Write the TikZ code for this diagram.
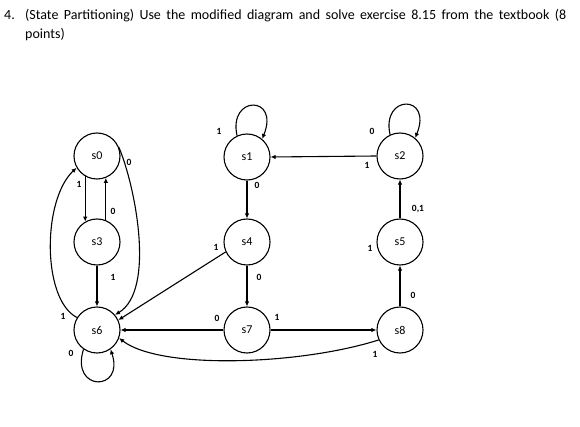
\documentclass[tikz,border=0pt]{standalone}
\usepackage{fontspec}
\setmainfont{Carlito}
\usetikzlibrary{arrows.meta}

\begin{document}
\begin{tikzpicture}[x=1pt,y=-1pt,
      state/.style={circle,draw,line width=1.1pt,minimum size=46pt,inner sep=0pt,
        font=\fontsize{12}{13}\selectfont},
      arr/.style={line width=1.1pt,-{Latex[length=5pt,width=4.5pt]}},
      lbl/.style={inner sep=0pt,font=\fontsize{9.5}{10}\selectfont\bfseries},
      txt/.style={anchor=base west,inner sep=0pt,font=\fontsize{14}{15}\selectfont},
      ]
      \useasboundingbox (0,0) rectangle (580,427);
      \node[txt] (num) at (4,19.5) {4.};
      \node[txt] (title) at (25,19.5) {\hbox to 541pt{(State Partitioning) Use the modified diagram and solve exercise 8.15 from the textbook (8}};
      \node[txt] (title2) at (25,38.5) {points)};

      \node[state] (s0) at (97,156) {s0};
      \node[state] (s3) at (97,242) {s3};
      \node[state] (s6) at (97,330) {s6};
      \node[state] (s1) at (247,157) {s1};
      \node[state] (s4) at (247,242) {s4};
      \node[state] (s7) at (247,330) {s7};
      \node[state] (s2) at (400,156) {s2};
      \node[state] (s5) at (400,242) {s5};
      \node[state] (s8) at (400,330) {s8};

      \draw[arr] (s0.240) -- (s3.120);
      \draw[arr] (s3.68) -- (s0.292);
      \draw[arr] (s0.22) .. controls (135,185) and (156,290) .. (s6.40);
      \draw[arr] (s6.148) .. controls (42,300) and (42,200) .. (s0.210);
      \draw[arr] (s3.south) -- (s6.north);
      \draw[arr] (s6.235) .. controls (70,392) and (125,392) .. (s6.305);
      \draw[arr] (s1.115) .. controls (228,95) and (280,95) .. (s1.50);
      \draw[arr] (s2.115) .. controls (381,94) and (433,94) .. (s2.50);
      \draw[arr] (s2.west) -- (s1.east);
      \draw[arr] (s1.south) -- (s4.north);
      \draw[arr] (s4.205) -- (s6.25);
      \draw[arr] (s4.south) -- (s7.north);
      \draw[arr] (s7.west) -- (s6.east);
      \draw[arr] (s7.east) -- (s8.west);
      \draw[arr] (s5.north) -- (s2.south);
      \draw[arr] (s8.north) -- (s5.south);
      \draw[arr] (s8.205) .. controls (300,365) and (160,370) .. (s6.-20);

      \node[lbl] (a03) at (79,184) {1};
      \node[lbl] (a30) at (113,211) {0};
      \node[lbl] (a06) at (129,162) {0};
      \node[lbl] (a60) at (63,316) {1};
      \node[lbl] (a36) at (113,277) {1};
      \node[lbl] (a66) at (71,353) {0};
      \node[lbl] (a11) at (219,131) {1};
      \node[lbl] (a14) at (257,185) {0};
      \node[lbl] (a46) at (216,247) {1};
      \node[lbl] (a47) at (259,277) {0};
      \node[lbl] (a76) at (217,318) {0};
      \node[lbl] (a78) at (277,317) {1};
      \node[lbl] (a22) at (372,131) {0};
      \node[lbl] (a21) at (367,165) {1};
      \node[lbl] (a52) at (418,209) {0,1};
      \node[lbl] (a55) at (370,248) {1};
      \node[lbl] (a85) at (413,295) {0};
      \node[lbl] (a86) at (375,354) {1};
\end{tikzpicture}
\end{document}
